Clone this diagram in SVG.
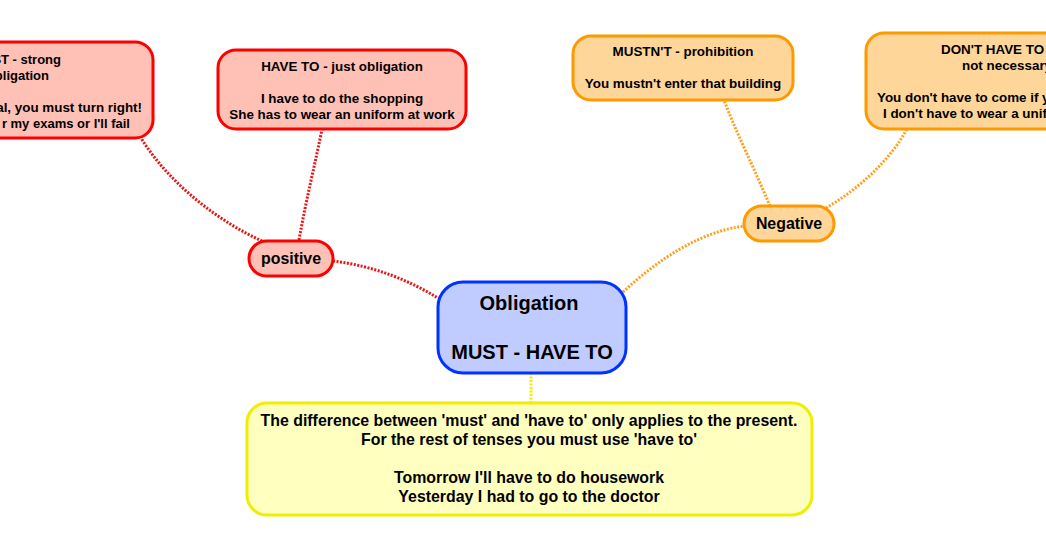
<svg xmlns="http://www.w3.org/2000/svg" width="1046" height="549" viewBox="0 0 1046 549">
<style>
text{font-family:"Liberation Sans",Arial,sans-serif;font-weight:bold;fill:#000}
.s{font-size:13.4px}
.t{font-size:13px}
.m{font-size:15.9px}
.l{font-size:20px}
.red{fill:#ffc0b6;stroke:#ff0000;stroke-width:3}
.org{fill:#ffd699;stroke:#ff9900;stroke-width:3}
.c{fill:none;stroke-width:3;stroke-dasharray:2 1.5}
.cr{stroke:#ee1111}
.co{stroke:#ffa020}
.cy{stroke:#eeee00}
</style>
<rect width="1046" height="549" fill="#fff"/>
<g id="connectors">
<path class="c cr" d="M333 261 C375 266 410 281 438 298"/>
<path class="c cr" d="M299 240 C306 200 316 160 322 129"/>
<path class="c cr" d="M262 241 C220 222 170 185 141 138"/>
<path class="c co" d="M623 292 C660 258 700 232 744 226"/>
<path class="c co" d="M770 206 C755 170 735 130 724 100"/>
<path class="c co" d="M826 208 C860 188 890 160 907 129"/>
<path class="c cy" d="M531 373 L531 403"/>
</g>
<g id="must-strong">
<rect class="red" x="-40" y="42" width="193" height="96" rx="18"/>
<text class="t" text-anchor="end" x="61" y="64">ST - strong</text>
<text class="t" text-anchor="end" x="49" y="80">bligation</text>
<text class="s" text-anchor="end" x="142" y="112">al, you must turn right!</text>
<text class="t" text-anchor="end" x="130" y="128">r my exams or I'll fail</text>
</g>
<g id="have-to">
<rect class="red" x="218" y="50" width="248" height="79" rx="18"/>
<text class="s" text-anchor="middle" x="342" y="71">HAVE TO - just obligation</text>
<text class="s" text-anchor="middle" x="342" y="103">I have to do the shopping</text>
<text class="s" text-anchor="middle" x="342" y="119">She has to wear an uniform at work</text>
</g>
<g id="mustnt">
<rect class="org" x="573" y="36" width="220" height="64" rx="18"/>
<text class="s" text-anchor="middle" x="683" y="56">MUSTN'T - prohibition</text>
<text class="s" text-anchor="middle" x="683" y="88">You mustn't enter that building</text>
</g>
<g id="dont-have-to">
<rect class="org" x="866" y="33" width="220" height="96" rx="18"/>
<text class="s" x="941" y="54">DON'T HAVE TO -</text>
<text class="s" x="962" y="70">not necessary</text>
<text class="s" x="877" y="102">You don't have to come if y</text>
<text class="s" x="883" y="118">I don't have to wear a unif</text>
</g>
<g id="positive">
<rect class="red" x="249" y="241" width="84" height="35" rx="17.5"/>
<text class="m" text-anchor="middle" x="291" y="264">positive</text>
</g>
<g id="negative">
<rect class="org" x="744" y="206" width="90" height="35" rx="17.5"/>
<text class="m" text-anchor="middle" x="789" y="229">Negative</text>
</g>
<g id="center">
<rect x="438" y="282" width="188" height="91" rx="25" fill="#c0ccff" stroke="#0033ff" stroke-width="3"/>
<text class="l" text-anchor="middle" x="529" y="310">Obligation</text>
<text class="l" text-anchor="middle" x="532" y="359">MUST - HAVE TO</text>
</g>
<g id="note">
<rect x="247" y="403" width="565" height="112" rx="20" fill="#ffffc0" stroke="#eeee00" stroke-width="3"/>
<text class="m" text-anchor="middle" x="529" y="426">The difference between 'must' and 'have to' only applies to the present.</text>
<text class="m" text-anchor="middle" x="529" y="445">For the rest of tenses you must use 'have to'</text>
<text class="m" text-anchor="middle" x="529" y="483">Tomorrow I'll have to do housework</text>
<text class="m" text-anchor="middle" x="529" y="502">Yesterday I had to go to the doctor</text>
</g>
</svg>
